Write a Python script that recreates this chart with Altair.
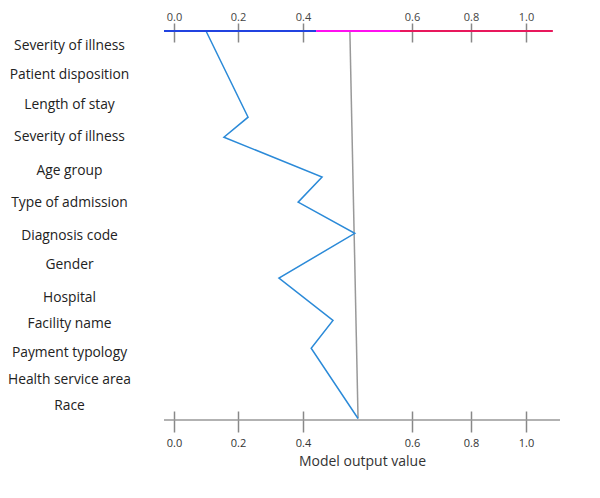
import altair as alt
import pandas as pd

# Feature rows (top to bottom) and their vertical positions (in row units)
features = ["Severity of illness", "Patient disposition", "Length of stay",
            "Severity of illness", "Age group", "Type of admission",
            "Diagnosis code", "Gender", "Hospital", "Facility name",
            "Payment typology", "Health service area", "Race"]
feature_rows = [-0.03, 0.94, 1.94, 3.04, 4.15, 5.22, 6.32, 7.32, 8.39,
                9.29, 10.23, 11.13, 12.03]

# Decision path (model output value, row depth)
path_x = [0.100, 0.231, 0.156, 0.435, 0.385, 0.495, 0.326, 0.455, 0.415, 0.501]
path_y = [-0.5, 2.38, 3.05, 4.38, 5.22, 6.26, 7.76, 9.17, 10.10, 12.45]

# Base value reference line
base_x = [0.486, 0.501]
base_y = [-0.5, 12.45]

# Colour bar along the top axis
bar_names = ["low", "mid", "high"]
bar_start = [-0.03, 0.424, 0.578]
bar_end = [0.424, 0.578, 1.079]
bar_colors = ["#2143e0", "#ff10f0", "#e8185c"]

tick_values = [0.0, 0.2, 0.4, 0.6, 0.8, 1.0]
axis_extent = [-0.03, 1.1]
y_extent = [-0.5, 12.5]

# piecewise x scale (reference axis is not evenly spaced)
x_domain = [-0.03, 0.0, 0.2, 0.4, 0.6, 0.8, 1.0, 1.1]
x_range = [0, 10, 74, 139, 248, 307, 362, 396]

xscale = alt.Scale(domain=x_domain, range=x_range, nice=False, zero=False)
yscale = alt.Scale(domain=y_extent, reverse=True, nice=False, zero=False)

path_df = pd.DataFrame({"x": path_x, "y": path_y, "order": list(range(len(path_x)))})
base_df = pd.DataFrame({"x": base_x, "y": base_y})
bar_df = pd.DataFrame({"name": bar_names, "x": bar_start, "x2": bar_end,
                       "y": [y_extent[0]] * 3})
bottom_df = pd.DataFrame({"x": [axis_extent[0]], "x2": [axis_extent[1]],
                          "y": [y_extent[1]]})

FONT = "Open Sans"

names_js = "[" + ",".join("'" + f + "'" for f in features) + "]"
rows_js = "[" + ",".join(str(r) for r in feature_rows) + "]"
label_expr = f"{names_js}[indexof({rows_js}, datum.value)]"

top_axis = alt.Axis(orient="top", values=tick_values, format=".1f", domain=False,
                    grid=False, ticks=True, tickSize=19, tickColor="#888888",
                    tickWidth=1.5, offset=-11, labelPadding=1, labelFontSize=11,
                    labelFont=FONT, labelColor="#444444", labelFlush=False, title=None)
bottom_axis = alt.Axis(orient="bottom", values=tick_values, format=".1f", domain=False,
                       grid=False, ticks=True, tickSize=21, tickColor="#888888",
                       tickWidth=1.5, offset=-9, labelPadding=5, labelFontSize=11,
                       labelFont=FONT, labelColor="#333333", labelFlush=False,
                       title="Model output value", titleFont=FONT, titleFontSize=14,
                       titleFontWeight="normal", titleColor="#333333", titlePadding=6)
y_axis = alt.Axis(values=feature_rows, labelExpr=label_expr, domain=False, ticks=False,
                  tickSize=0, grid=False, labelAlign="center", labelBaseline="middle",
                  labelPadding=95, labelFont=FONT, labelFontSize=13.8,
                  labelColor="#222222", labelFlush=False, labelOverlap=False, title=None)

Y = alt.Y("y:Q", scale=yscale, axis=y_axis)

bar = alt.Chart(bar_df).mark_rule(strokeWidth=2.2).encode(
    x=alt.X("x:Q", scale=xscale, axis=top_axis),
    x2="x2:Q",
    y=Y,
    color=alt.Color("name:N", scale=alt.Scale(domain=bar_names, range=bar_colors), legend=None),
)

bottom = alt.Chart(bottom_df).mark_rule(strokeWidth=1.5, color="#999999").encode(
    x=alt.X("x:Q", scale=xscale, axis=bottom_axis),
    x2="x2:Q",
    y=Y,
)

base = alt.Chart(base_df).mark_line(strokeWidth=1.5, color="#999999").encode(
    x=alt.X("x:Q", scale=xscale, axis=None),
    y=Y,
)

path = alt.Chart(path_df).mark_line(strokeWidth=1.5, color="#2b8ad8").encode(
    x=alt.X("x:Q", scale=xscale, axis=None),
    y=Y,
    order="order:Q",
)

chart = alt.layer(bottom, base, path, bar).resolve_axis(x="independent").properties(
    width=396, height=389,
    autosize=alt.AutoSizeParams(type="none"),
    padding={"left": 156, "top": 23, "right": 20, "bottom": 60},
).configure_view(strokeWidth=0)

chart.save("out.html", embed_options={"renderer": "svg", "actions": False})
